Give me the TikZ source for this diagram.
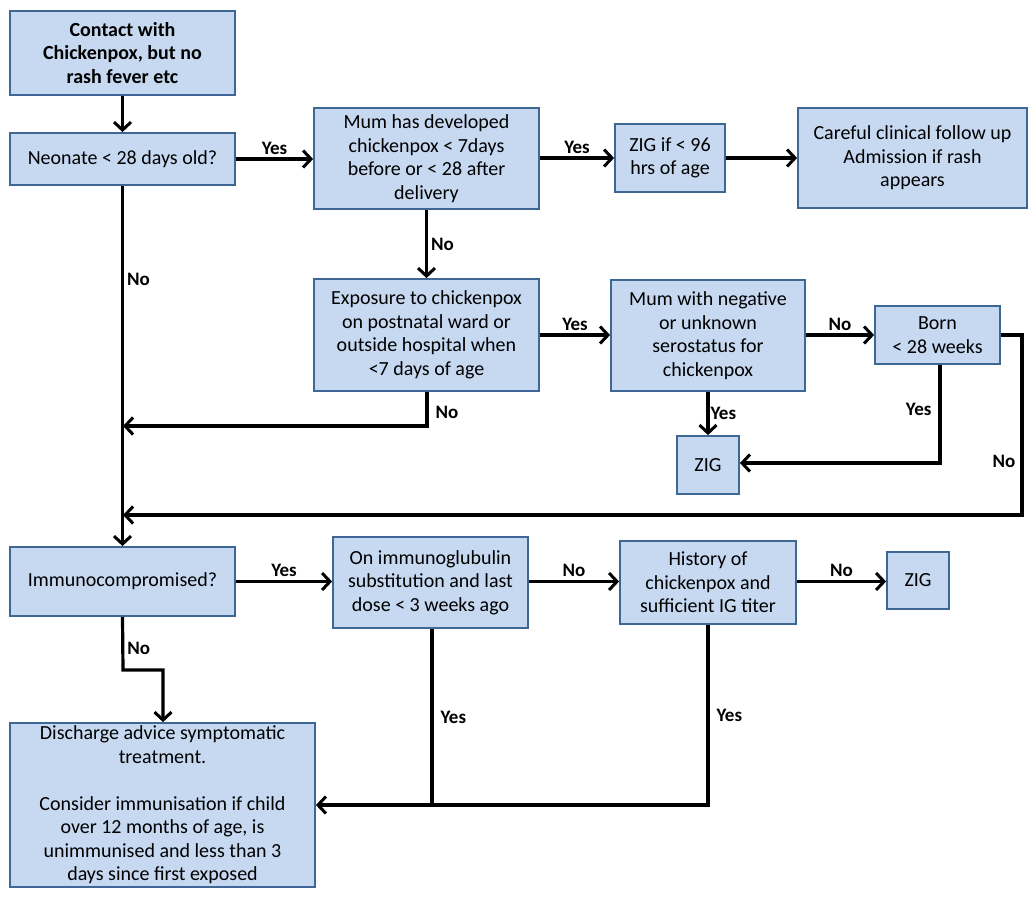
\documentclass[tikz,border=0pt]{standalone}
\usepackage{fontspec}
\setmainfont{Carlito}
\usetikzlibrary{arrows.meta}
\definecolor{boxfill}{HTML}{C6D9F1}
\definecolor{boxborder}{HTML}{3F6796}
\tikzset{
  box/.style={draw=boxborder, fill=boxfill, line width=1.8pt, align=center,
    inner sep=0pt, font=\fontsize{20}{23.5}\selectfont},
  conn/.style={line width=3.2pt, draw=black},
  arr/.style={conn, -{Straight Barb[length=8pt,width=17pt,line width=3pt]}},
  lbl/.style={font=\bfseries\fontsize{19}{22}\selectfont, inner sep=1pt}
}
\begin{document}
\begin{tikzpicture}[x=1pt,y=-1pt]
\useasboundingbox (0,0) rectangle (1036,900);
\fill[white] (0,0) rectangle (1036,900);
% boxes
\node[box, minimum width=225pt, minimum height=84pt, font=\bfseries\fontsize{20}{23.5}\selectfont] (A) at (122.5,53) {Contact with\\Chickenpox, but no\\rash fever etc};
\node[box, minimum width=225pt, minimum height=52pt] (B) at (122.5,159) {Neonate < 28 days old?};
\node[box, minimum width=225pt, minimum height=101pt] (C) at (426.5,158.5) {Mum has developed\\chickenpox < 7days\\before or < 28 after\\delivery};
\node[box, minimum width=110pt, minimum height=68pt] (D) at (670,158) {ZIG if < 96\\hrs of age};
\node[box, minimum width=229pt, minimum height=100pt] (E) at (912.5,158) {Careful clinical follow up\\Admission if rash\\appears};
\node[box, minimum width=225pt, minimum height=112pt] (F) at (426.5,335) {Exposure to chickenpox\\on postnatal ward or\\outside hospital when\\<7 days of age};
\node[box, minimum width=194pt, minimum height=111pt] (G) at (708,335.5) {Mum with negative\\or unknown\\serostatus for\\chickenpox};
\node[box, minimum width=125pt, minimum height=58pt] (H) at (937.5,335) {Born\\< 28 weeks};
\node[box, minimum width=62pt, minimum height=58pt] (Z1) at (708,465) {ZIG};
\node[box, minimum width=225pt, minimum height=69pt] (I) at (122.5,581.5) {Immunocompromised?};
\node[box, minimum width=195pt, minimum height=91pt] (J) at (430.5,582.5) {On immunoglubulin\\substitution and last\\dose < 3 weeks ago};
\node[box, minimum width=176pt, minimum height=83pt] (K) at (708,582.5) {History of\\chickenpox and\\sufficient IG titer};
\node[box, minimum width=62pt, minimum height=57pt] (Z2) at (918,580.5) {ZIG};
\node[box, minimum width=305pt, minimum height=164pt] (L) at (162.5,805) {Discharge advice symptomatic\\treatment.\\[23.5pt]Consider immunisation if child\\over 12 months of age, is\\unimmunised and less than 3\\days since first exposed};
% junction coordinates
\coordinate (fturn) at (427,426);
\coordinate (fend) at (123,426);
\coordinate (hturn) at (940,463);
\coordinate (nr1) at (1022,335);
\coordinate (nr2) at (1022,515);
\coordinate (nend) at (123,515);
\coordinate (ia) at (123,670);
\coordinate (ib) at (163,670);
\coordinate (jb) at (432,805);
\coordinate (kb) at (708,805);
% connectors
\draw[arr] (A.south) -- (B.north);
\draw[arr] (B.east) -- (C.west |- B.east) node[lbl, midway, above=2pt] {Yes};
\draw[arr] (C.east |- D.west) -- (D.west) node[lbl, midway, above=2pt] {Yes};
\draw[arr] (D.east) -- (E.west |- D.east);
\draw[arr] (C.south) -- (F.north) node[lbl, pos=0.5, right=2pt] {No};
\draw[arr] (F.east) -- (G.west |- F.east) node[lbl, midway, above=2pt] {Yes};
\draw[arr] (G.east |- H.west) -- (H.west) node[lbl, midway, above=2pt] {No};
\draw[arr] (G.south) -- (Z1.north) node[lbl, midway, right=0pt] {Yes};
\draw[arr] (H.south -| hturn) -- (hturn) node[lbl, pos=0.45, left=6pt] {Yes} -- (Z1.east |- hturn);
\draw[arr] (H.east) -- (nr1) -- (nr2) node[lbl, pos=0.7, left=4pt] {No} -- (nend);
\draw[arr] (F.south -| fturn) -- (fturn) node[lbl, pos=0.6, right=6pt] {No} -- (fend);
\draw[arr] (B.south) -- (I.north) node[lbl, pos=0.26, right=2pt] {No};
\draw[arr] (I.east) -- (J.west |- I.east) node[lbl, midway, above=2pt] {Yes};
\draw[arr] (J.east |- I.east) -- (K.west |- I.east) node[lbl, midway, above=2pt] {No};
\draw[arr] (K.east |- I.east) -- (Z2.west |- I.east) node[lbl, midway, above=2pt] {No};
\draw[arr] (I.south) -- (ia) node[lbl, pos=0.6, right=2pt] {No} -- (ib) -- (L.north -| ib);
\draw[conn] (J.south -| jb) -- (jb) node[lbl, pos=0.5, right=6pt] {Yes};
\draw[arr] (K.south) -- (kb) node[lbl, pos=0.5, right=6pt] {Yes} -- (L.east |- kb);
\end{tikzpicture}
\end{document}
